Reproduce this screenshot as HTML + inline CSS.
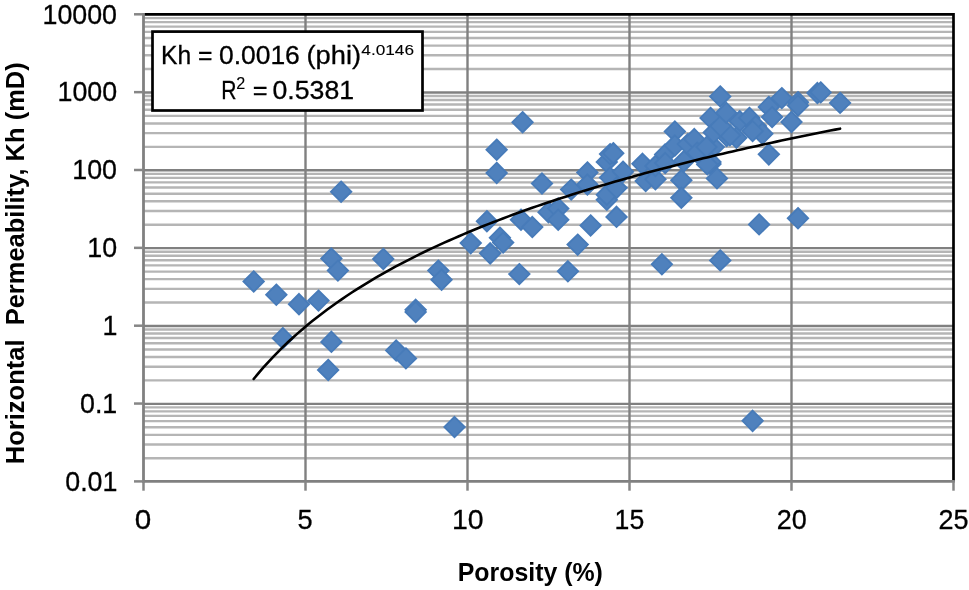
<!DOCTYPE html>
<html><head><meta charset="utf-8"><title>Porosity vs Horizontal Permeability</title>
<style>
html,body{margin:0;padding:0;background:#fff;}
svg{display:block;}
text{font-family:"Liberation Sans",sans-serif;fill:#000;stroke:#000;stroke-width:0.3px;}
.b{font-weight:bold;stroke:none;}
.s{stroke-width:0.1px;}
</style></head><body>
<svg width="969" height="590" viewBox="0 0 969 590">
<rect width="969" height="590" fill="#fff"/>

<g stroke="#b5b5b5" stroke-width="2.4">
<line x1="143.5" x2="953.5" y1="458.26" y2="458.26"/>
<line x1="143.5" x2="953.5" y1="444.56" y2="444.56"/>
<line x1="143.5" x2="953.5" y1="434.83" y2="434.83"/>
<line x1="143.5" x2="953.5" y1="427.29" y2="427.29"/>
<line x1="143.5" x2="953.5" y1="421.12" y2="421.12"/>
<line x1="143.5" x2="953.5" y1="415.91" y2="415.91"/>
<line x1="143.5" x2="953.5" y1="411.39" y2="411.39"/>
<line x1="143.5" x2="953.5" y1="407.41" y2="407.41"/>
<line x1="143.5" x2="953.5" y1="380.41" y2="380.41"/>
<line x1="143.5" x2="953.5" y1="366.71" y2="366.71"/>
<line x1="143.5" x2="953.5" y1="356.98" y2="356.98"/>
<line x1="143.5" x2="953.5" y1="349.44" y2="349.44"/>
<line x1="143.5" x2="953.5" y1="343.27" y2="343.27"/>
<line x1="143.5" x2="953.5" y1="338.06" y2="338.06"/>
<line x1="143.5" x2="953.5" y1="333.54" y2="333.54"/>
<line x1="143.5" x2="953.5" y1="329.56" y2="329.56"/>
<line x1="143.5" x2="953.5" y1="302.56" y2="302.56"/>
<line x1="143.5" x2="953.5" y1="288.86" y2="288.86"/>
<line x1="143.5" x2="953.5" y1="279.13" y2="279.13"/>
<line x1="143.5" x2="953.5" y1="271.59" y2="271.59"/>
<line x1="143.5" x2="953.5" y1="265.42" y2="265.42"/>
<line x1="143.5" x2="953.5" y1="260.21" y2="260.21"/>
<line x1="143.5" x2="953.5" y1="255.69" y2="255.69"/>
<line x1="143.5" x2="953.5" y1="251.71" y2="251.71"/>
<line x1="143.5" x2="953.5" y1="224.71" y2="224.71"/>
<line x1="143.5" x2="953.5" y1="211.01" y2="211.01"/>
<line x1="143.5" x2="953.5" y1="201.28" y2="201.28"/>
<line x1="143.5" x2="953.5" y1="193.74" y2="193.74"/>
<line x1="143.5" x2="953.5" y1="187.57" y2="187.57"/>
<line x1="143.5" x2="953.5" y1="182.36" y2="182.36"/>
<line x1="143.5" x2="953.5" y1="177.84" y2="177.84"/>
<line x1="143.5" x2="953.5" y1="173.86" y2="173.86"/>
<line x1="143.5" x2="953.5" y1="146.86" y2="146.86"/>
<line x1="143.5" x2="953.5" y1="133.16" y2="133.16"/>
<line x1="143.5" x2="953.5" y1="123.43" y2="123.43"/>
<line x1="143.5" x2="953.5" y1="115.89" y2="115.89"/>
<line x1="143.5" x2="953.5" y1="109.72" y2="109.72"/>
<line x1="143.5" x2="953.5" y1="104.51" y2="104.51"/>
<line x1="143.5" x2="953.5" y1="99.99" y2="99.99"/>
<line x1="143.5" x2="953.5" y1="96.01" y2="96.01"/>
<line x1="143.5" x2="953.5" y1="69.01" y2="69.01"/>
<line x1="143.5" x2="953.5" y1="55.31" y2="55.31"/>
<line x1="143.5" x2="953.5" y1="45.58" y2="45.58"/>
<line x1="143.5" x2="953.5" y1="38.04" y2="38.04"/>
<line x1="143.5" x2="953.5" y1="31.87" y2="31.87"/>
<line x1="143.5" x2="953.5" y1="26.66" y2="26.66"/>
<line x1="143.5" x2="953.5" y1="22.14" y2="22.14"/>
<line x1="143.5" x2="953.5" y1="18.16" y2="18.16"/>
</g>
<g stroke="#808080" stroke-width="2.4">
<line x1="143.5" x2="953.5" y1="403.85" y2="403.85"/>
<line x1="143.5" x2="953.5" y1="326.00" y2="326.00"/>
<line x1="143.5" x2="953.5" y1="248.15" y2="248.15"/>
<line x1="143.5" x2="953.5" y1="170.30" y2="170.30"/>
<line x1="143.5" x2="953.5" y1="92.45" y2="92.45"/>
<line x1="305.50" x2="305.50" y1="14.3" y2="481.4"/>
<line x1="467.50" x2="467.50" y1="14.3" y2="481.4"/>
<line x1="629.50" x2="629.50" y1="14.3" y2="481.4"/>
<line x1="791.50" x2="791.50" y1="14.3" y2="481.4"/>
</g>
<path d="M143.5 14.3H953.5V481.4" fill="none" stroke="#000" stroke-width="2.7" stroke-linejoin="miter"/>
<g stroke="#808080" stroke-width="2.8">
<line x1="143.5" x2="143.5" y1="12.950000000000001" y2="482.79999999999995"/>
<line x1="142.1" x2="954.85" y1="481.4" y2="481.4"/>
</g>
<g stroke="#868686" stroke-width="2.5">
<line x1="134" x2="143.5" y1="481.40" y2="481.40"/>
<line x1="134" x2="143.5" y1="403.55" y2="403.55"/>
<line x1="134" x2="143.5" y1="325.70" y2="325.70"/>
<line x1="134" x2="143.5" y1="247.85" y2="247.85"/>
<line x1="134" x2="143.5" y1="170.00" y2="170.00"/>
<line x1="134" x2="143.5" y1="92.15" y2="92.15"/>
<line x1="134" x2="143.5" y1="14.30" y2="14.30"/>
<line x1="143.50" x2="143.50" y1="481.4" y2="490.7"/>
<line x1="305.50" x2="305.50" y1="481.4" y2="490.7"/>
<line x1="467.50" x2="467.50" y1="481.4" y2="490.7"/>
<line x1="629.50" x2="629.50" y1="481.4" y2="490.7"/>
<line x1="791.50" x2="791.50" y1="481.4" y2="490.7"/>
<line x1="953.50" x2="953.50" y1="481.4" y2="490.7"/>
</g>
<g fill="#4f81bd" stroke="#477bb9" stroke-width="1.8" stroke-linejoin="miter">
<path d="M253.7 271.2L263.9 281.5L253.7 291.7L243.4 281.5Z"/>
<path d="M276.3 284.5L286.6 294.7L276.3 305.0L266.1 294.7Z"/>
<path d="M299.0 293.9L309.2 304.2L299.0 314.4L288.8 304.2Z"/>
<path d="M318.5 290.4L328.7 300.6L318.5 310.8L308.2 300.6Z"/>
<path d="M282.8 328.0L293.1 338.2L282.8 348.5L272.6 338.2Z"/>
<path d="M331.4 331.6L341.6 341.9L331.4 352.1L321.2 341.9Z"/>
<path d="M328.2 359.7L338.4 370.0L328.2 380.2L317.9 370.0Z"/>
<path d="M331.4 248.3L341.6 258.5L331.4 268.7L321.2 258.5Z"/>
<path d="M337.9 260.4L348.1 270.6L337.9 280.8L327.7 270.6Z"/>
<path d="M341.1 181.5L351.4 191.7L341.1 202.0L330.9 191.7Z"/>
<path d="M383.3 248.7L393.5 259.0L383.3 269.2L373.0 259.0Z"/>
<path d="M396.2 340.3L406.4 350.5L396.2 360.7L386.0 350.5Z"/>
<path d="M405.9 348.2L416.2 358.4L405.9 368.6L395.7 358.4Z"/>
<path d="M415.7 299.6L425.9 309.8L415.7 320.0L405.4 309.8Z"/>
<path d="M415.7 301.8L425.9 312.0L415.7 322.2L405.4 312.0Z"/>
<path d="M438.3 260.4L448.6 270.6L438.3 280.8L428.1 270.6Z"/>
<path d="M441.6 269.5L451.8 279.7L441.6 289.9L431.3 279.7Z"/>
<path d="M454.5 416.8L464.8 427.0L454.5 437.2L444.3 427.0Z"/>
<path d="M470.7 232.9L481.0 243.1L470.7 253.4L460.5 243.1Z"/>
<path d="M486.9 211.0L497.2 221.2L486.9 231.4L476.7 221.2Z"/>
<path d="M490.2 243.1L500.4 253.3L490.2 263.6L479.9 253.3Z"/>
<path d="M496.7 139.5L506.9 149.8L496.7 160.0L486.4 149.8Z"/>
<path d="M496.7 162.7L506.9 173.0L496.7 183.2L486.4 173.0Z"/>
<path d="M499.9 227.5L510.1 237.7L499.9 247.9L489.7 237.7Z"/>
<path d="M503.1 232.3L513.4 242.5L503.1 252.8L492.9 242.5Z"/>
<path d="M522.6 112.0L532.8 122.2L522.6 132.4L512.3 122.2Z"/>
<path d="M521.0 209.5L531.2 219.7L521.0 229.9L510.7 219.7Z"/>
<path d="M519.3 263.9L529.6 274.1L519.3 284.3L509.1 274.1Z"/>
<path d="M532.3 216.8L542.5 227.1L532.3 237.3L522.1 227.1Z"/>
<path d="M542.0 173.3L552.2 183.5L542.0 193.8L531.8 183.5Z"/>
<path d="M548.5 202.0L558.7 212.2L548.5 222.4L538.3 212.2Z"/>
<path d="M558.2 198.3L568.5 208.5L558.2 218.8L548.0 208.5Z"/>
<path d="M558.2 209.5L568.5 219.7L558.2 229.9L548.0 219.7Z"/>
<path d="M567.9 261.1L578.2 271.3L567.9 281.5L557.7 271.3Z"/>
<path d="M571.2 179.4L581.4 189.6L571.2 199.8L560.9 189.6Z"/>
<path d="M577.7 234.4L587.9 244.6L577.7 254.9L567.4 244.6Z"/>
<path d="M587.4 162.2L597.6 172.5L587.4 182.7L577.1 172.5Z"/>
<path d="M587.4 174.3L597.6 184.6L587.4 194.8L577.1 184.6Z"/>
<path d="M590.6 215.2L600.9 225.4L590.6 235.7L580.4 225.4Z"/>
<path d="M606.8 151.7L617.0 161.9L606.8 172.1L596.6 161.9Z"/>
<path d="M606.8 189.6L617.0 199.8L606.8 210.0L596.6 199.8Z"/>
<path d="M606.8 184.6L617.0 194.8L606.8 205.0L596.6 194.8Z"/>
<path d="M610.1 143.9L620.3 154.1L610.1 164.3L599.8 154.1Z"/>
<path d="M613.3 143.0L623.5 153.3L613.3 163.5L603.1 153.3Z"/>
<path d="M610.1 167.3L620.3 177.5L610.1 187.8L599.8 177.5Z"/>
<path d="M616.5 177.6L626.8 187.8L616.5 198.1L606.3 187.8Z"/>
<path d="M616.5 206.6L626.8 216.9L616.5 227.1L606.3 216.9Z"/>
<path d="M623.0 161.5L633.2 171.7L623.0 182.0L612.8 171.7Z"/>
<path d="M642.5 153.6L652.7 163.8L642.5 174.1L632.2 163.8Z"/>
<path d="M645.7 170.9L655.9 181.1L645.7 191.3L635.5 181.1Z"/>
<path d="M655.4 169.0L665.7 179.3L655.4 189.5L645.2 179.3Z"/>
<path d="M655.4 155.8L665.7 166.0L655.4 176.2L645.2 166.0Z"/>
<path d="M661.9 254.1L672.1 264.3L661.9 274.5L651.7 264.3Z"/>
<path d="M665.1 144.3L675.4 154.5L665.1 164.8L654.9 154.5Z"/>
<path d="M674.9 121.3L685.1 131.5L674.9 141.8L664.6 131.5Z"/>
<path d="M674.9 135.3L685.1 145.6L674.9 155.8L664.6 145.6Z"/>
<path d="M681.3 170.0L691.6 180.2L681.3 190.4L671.1 180.2Z"/>
<path d="M681.3 187.5L691.6 197.8L681.3 208.0L671.1 197.8Z"/>
<path d="M687.8 133.9L698.1 144.1L687.8 154.3L677.6 144.1Z"/>
<path d="M694.3 128.9L704.5 139.2L694.3 149.4L684.1 139.2Z"/>
<path d="M720.2 250.2L730.5 260.4L720.2 270.6L710.0 260.4Z"/>
<path d="M759.1 214.2L769.3 224.4L759.1 234.6L748.9 224.4Z"/>
<path d="M798.0 208.0L808.2 218.3L798.0 228.5L787.7 218.3Z"/>
<path d="M752.6 410.6L762.9 420.8L752.6 431.1L742.4 420.8Z"/>
<path d="M710.5 153.9L720.7 164.1L710.5 174.3L700.3 164.1Z"/>
<path d="M717.0 168.2L727.2 178.4L717.0 188.6L706.7 178.4Z"/>
<path d="M713.7 136.8L724.0 147.1L713.7 157.3L703.5 147.1Z"/>
<path d="M710.5 151.7L720.7 161.9L710.5 172.1L700.3 161.9Z"/>
<path d="M707.3 154.2L717.5 164.4L707.3 174.6L697.0 164.4Z"/>
<path d="M720.2 86.2L730.5 96.4L720.2 106.6L710.0 96.4Z"/>
<path d="M710.5 107.7L720.7 117.9L710.5 128.1L700.3 117.9Z"/>
<path d="M739.7 111.0L749.9 121.2L739.7 131.5L729.4 121.2Z"/>
<path d="M749.4 107.7L759.6 117.9L749.4 128.1L739.1 117.9Z"/>
<path d="M755.9 115.9L766.1 126.1L755.9 136.4L745.6 126.1Z"/>
<path d="M762.3 123.4L772.6 133.7L762.3 143.9L752.1 133.7Z"/>
<path d="M768.8 144.1L779.1 154.3L768.8 164.6L758.6 154.3Z"/>
<path d="M768.8 96.7L779.1 106.9L768.8 117.2L758.6 106.9Z"/>
<path d="M781.8 87.9L792.0 98.1L781.8 108.3L771.5 98.1Z"/>
<path d="M772.1 106.9L782.3 117.1L772.1 127.3L761.8 117.1Z"/>
<path d="M791.5 111.7L801.7 122.0L791.5 132.2L781.3 122.0Z"/>
<path d="M798.0 92.0L808.2 102.2L798.0 112.4L787.7 102.2Z"/>
<path d="M798.0 95.3L808.2 105.5L798.0 115.7L787.7 105.5Z"/>
<path d="M817.4 82.8L827.6 93.0L817.4 103.2L807.2 93.0Z"/>
<path d="M820.7 82.2L830.9 92.4L820.7 102.6L810.4 92.4Z"/>
<path d="M840.1 92.7L850.3 102.9L840.1 113.1L829.9 102.9Z"/>
<path d="M726.7 125.8L736.9 136.0L726.7 146.3L716.5 136.0Z"/>
<path d="M736.4 127.5L746.6 137.7L736.4 147.9L726.2 137.7Z"/>
<path d="M752.6 120.9L762.9 131.1L752.6 141.3L742.4 131.1Z"/>
<path d="M729.9 125.0L740.2 135.2L729.9 145.4L719.7 135.2Z"/>
<path d="M683.8 151.0L694.0 161.2L683.8 171.4L673.6 161.2Z"/>
<path d="M697.2 142.5L707.4 152.7L697.2 162.9L687.0 152.7Z"/>
<path d="M713.7 122.4L723.9 132.6L713.7 142.8L703.5 132.6Z"/>
<path d="M720.5 115.9L730.7 126.1L720.5 136.3L710.3 126.1Z"/>
<path d="M726.2 102.6L736.4 112.8L726.2 123.0L716.0 112.8Z"/>
<path d="M665.2 152.8L675.4 163.0L665.2 173.2L655.0 163.0Z"/>
<path d="M706.5 136.8L716.7 147.0L706.5 157.2L696.3 147.0Z"/>
</g>
<path d="M253.66 378.99L258.55 373.10L263.43 367.45L268.32 362.03L273.21 356.81L278.10 351.79L282.98 346.95L287.87 342.28L292.76 337.76L297.64 333.39L302.53 329.15L307.42 325.04L312.30 321.06L317.19 317.18L322.08 313.42L326.96 309.75L331.85 306.18L336.74 302.71L341.63 299.32L346.51 296.01L351.40 292.78L356.29 289.63L361.17 286.54L366.06 283.53L370.95 280.58L375.84 277.70L380.72 274.87L385.61 272.10L390.50 269.39L395.38 266.73L400.27 264.12L405.16 261.56L410.04 259.05L414.93 256.59L419.82 254.16L424.70 251.78L429.59 249.45L434.48 247.15L439.37 244.89L444.25 242.66L449.14 240.47L454.03 238.32L458.91 236.20L463.80 234.12L468.69 232.06L473.57 230.04L478.46 228.04L483.35 226.07L488.24 224.14L493.12 222.23L498.01 220.34L502.90 218.48L507.78 216.65L512.67 214.84L517.56 213.06L522.45 211.29L527.33 209.56L532.22 207.84L537.11 206.14L541.99 204.47L546.88 202.81L551.77 201.18L556.65 199.56L561.54 197.97L566.43 196.39L571.32 194.83L576.20 193.29L581.09 191.76L585.98 190.26L590.86 188.77L595.75 187.29L600.64 185.83L605.52 184.39L610.41 182.96L615.30 181.55L620.18 180.15L625.07 178.76L629.96 177.39L634.85 176.04L639.73 174.69L644.62 173.36L649.51 172.05L654.39 170.74L659.28 169.45L664.17 168.17L669.06 166.90L673.94 165.64L678.83 164.40L683.72 163.17L688.60 161.94L693.49 160.73L698.38 159.53L703.26 158.34L708.15 157.16L713.04 155.99L717.93 154.83L722.81 153.68L727.70 152.54L732.59 151.41L737.47 150.29L742.36 149.18L747.25 148.08L752.13 146.98L757.02 145.90L761.91 144.82L766.79 143.75L771.68 142.69L776.57 141.64L781.46 140.59L786.34 139.56L791.23 138.53L796.12 137.51L801.00 136.50L805.89 135.49L810.78 134.49L815.66 133.50L820.55 132.52L825.44 131.54L830.33 130.58L835.21 129.61L840.10 128.66" fill="none" stroke="#000" stroke-width="2.6" stroke-linecap="round" stroke-linejoin="round"/>
<rect x="152.5" y="31.6" width="270" height="78.9" fill="#fff" stroke="#000" stroke-width="2.7"/>
<text transform="translate(160.99 63.70) scale(0.9550 1.0000)" font-size="25.8">Kh</text>
<text transform="translate(197.90 63.70) scale(0.9600 1.0000)" font-size="25.8">=</text>
<text transform="translate(218.97 63.70) scale(1.0254 1.0000)" font-size="25.8">0.0016</text>
<text transform="translate(306.51 63.70) scale(1.0577 1.0000)" font-size="25.8">(phi)</text>
<text class="s" transform="translate(361.32 55.20) scale(1.1118 0.9674)" font-size="15.5">4.0146</text>
<text transform="translate(221.26 98.60) scale(0.8197 1.0000)" font-size="25.8">R</text>
<text class="s" transform="translate(236.22 88.70) scale(1.0429 1.0047)" font-size="15.5">2</text>
<text transform="translate(252.77 98.60) scale(0.9840 1.0000)" font-size="25.8">=</text>
<text transform="translate(272.47 98.60) scale(1.0345 1.0000)" font-size="25.8">0.5381</text>
<text transform="translate(42.50 23.50) scale(1.0000 1.0000)" font-size="26.8">10000</text>
<text transform="translate(57.50 101.35) scale(1.0000 1.0000)" font-size="26.8">1000</text>
<text transform="translate(72.25 179.20) scale(1.0000 1.0000)" font-size="26.8">100</text>
<text transform="translate(87.25 257.05) scale(1.0000 1.0000)" font-size="26.8">10</text>
<text transform="translate(102.50 334.90) scale(1.0000 1.0000)" font-size="26.8">1</text>
<text transform="translate(80.00 412.75) scale(1.0000 1.0000)" font-size="26.8">0.1</text>
<text transform="translate(65.25 490.60) scale(1.0000 1.0000)" font-size="26.8">0.01</text>
<text transform="translate(134.79 528.50) scale(1.1059 1.0000)" font-size="26.8">0</text>
<text transform="translate(297.43 528.50) scale(1.0160 1.0000)" font-size="26.8">5</text>
<text transform="translate(451.98 528.50) scale(1.0617 1.0000)" font-size="26.8">10</text>
<text transform="translate(614.61 528.50) scale(0.9944 1.0000)" font-size="26.8">15</text>
<text transform="translate(776.84 528.50) scale(1.0073 1.0000)" font-size="26.8">20</text>
<text transform="translate(938.44 528.50) scale(1.0073 1.0000)" font-size="26.8">25</text>
<text class="b" transform="translate(457.76 580.80) scale(0.9954 1.0000)" font-size="25">Porosity (%)</text>
<text class="b" transform="translate(24.4 464.2) rotate(-90)" font-size="25.5" xml:space="preserve">Horizontal  Permeability, Kh (mD)</text>
</svg></body></html>
